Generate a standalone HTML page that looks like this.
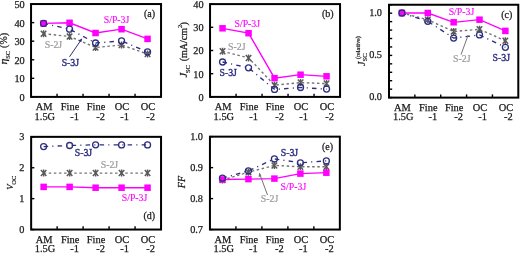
<!DOCTYPE html>
<html><head><meta charset="utf-8"><style>
html,body{margin:0;padding:0;background:#fff;}
body{width:520px;height:253px;overflow:hidden;}
svg{display:block;}
text{font-family:'Liberation Serif', 'Times New Roman', serif;stroke-width:0.25px;paint-order:stroke;}
.tk,.cat,.pl,.yl{stroke:#1a1a1a;}
.tk{font-size:10.3px;fill:#1a1a1a;}
.cat{font-size:10.4px;fill:#1a1a1a;}
.pl{font-size:10px;}
.lab{font-size:9.8px;stroke-width:0.4px;}
.yl{font-size:10px;fill:#1a1a1a;}
</style></head><body>
<svg width="520" height="253" viewBox="0 0 520 253">
<rect width="520" height="253" fill="#fff"/>
<path d="M43.55 33.7 L69.55 36.5 L95.55 47.5 L121.55 45 L147.55 54" stroke="#737373" stroke-width="1.4" fill="none" stroke-dasharray="2.5 2.6"/>
<path d="M43.55 23.4 L69.55 29.2 L95.55 43 L121.55 40.9 L147.55 51.9" stroke="#2e2e80" stroke-width="1.35" fill="none" stroke-dasharray="4.5 4.2 1.1 4.2"/>
<path d="M43.55 23.4 L69.55 22.8 L95.55 33 L121.55 29.2 L147.55 38.9" stroke="#ff00ff" stroke-width="1.35" fill="none"/>
<path d="M40.8 30.7L46.3 36.7M40.8 36.7L46.3 30.7M43.55 30.2L43.55 37.2" stroke="#5a5a5a" stroke-width="1.45" fill="none"/>
<path d="M66.8 33.5L72.3 39.5M66.8 39.5L72.3 33.5M69.55 33L69.55 40" stroke="#5a5a5a" stroke-width="1.45" fill="none"/>
<path d="M92.8 44.5L98.3 50.5M92.8 50.5L98.3 44.5M95.55 44L95.55 51" stroke="#5a5a5a" stroke-width="1.45" fill="none"/>
<path d="M118.8 42L124.3 48M118.8 48L124.3 42M121.55 41.5L121.55 48.5" stroke="#5a5a5a" stroke-width="1.45" fill="none"/>
<path d="M144.8 51L150.3 57M144.8 57L150.3 51M147.55 50.5L147.55 57.5" stroke="#5a5a5a" stroke-width="1.45" fill="none"/>
<rect x="40.3" y="20.15" width="6.5" height="6.5" fill="#ff00ff"/>
<rect x="66.3" y="19.55" width="6.5" height="6.5" fill="#ff00ff"/>
<rect x="92.3" y="29.75" width="6.5" height="6.5" fill="#ff00ff"/>
<rect x="118.3" y="25.95" width="6.5" height="6.5" fill="#ff00ff"/>
<rect x="144.3" y="35.65" width="6.5" height="6.5" fill="#ff00ff"/>
<circle cx="43.55" cy="23.4" r="3" fill="none" stroke="#2e2e80" stroke-width="1.3"/>
<circle cx="69.55" cy="29.2" r="3" fill="none" stroke="#2e2e80" stroke-width="1.3"/>
<circle cx="95.55" cy="43" r="3" fill="none" stroke="#2e2e80" stroke-width="1.3"/>
<circle cx="121.55" cy="40.9" r="3" fill="none" stroke="#2e2e80" stroke-width="1.3"/>
<circle cx="147.55" cy="51.9" r="3" fill="none" stroke="#2e2e80" stroke-width="1.3"/>
<rect x="31.05" y="4.05" width="130" height="92.85" fill="none" stroke="#000" stroke-width="2.0"/>
<path d="M31.05 96.9H34.25" stroke="#000" stroke-width="1.4"/>
<text x="24.71" y="100.8" text-anchor="end" class="tk">0</text>
<path d="M31.05 78.33H34.25" stroke="#000" stroke-width="1.4"/>
<text x="24.71" y="82.23" text-anchor="end" class="tk">10</text>
<path d="M31.05 59.76H34.25" stroke="#000" stroke-width="1.4"/>
<text x="24.71" y="63.66" text-anchor="end" class="tk">20</text>
<path d="M31.05 41.19H34.25" stroke="#000" stroke-width="1.4"/>
<text x="24.71" y="45.09" text-anchor="end" class="tk">30</text>
<path d="M31.05 22.62H34.25" stroke="#000" stroke-width="1.4"/>
<text x="24.71" y="26.52" text-anchor="end" class="tk">40</text>
<path d="M31.05 4.05H34.25" stroke="#000" stroke-width="1.4"/>
<text x="24.71" y="7.95" text-anchor="end" class="tk">50</text>
<path d="M57.05 96.9V93.7" stroke="#000" stroke-width="1.4"/>
<path d="M83.05 96.9V93.7" stroke="#000" stroke-width="1.4"/>
<path d="M109.05 96.9V93.7" stroke="#000" stroke-width="1.4"/>
<path d="M135.05 96.9V93.7" stroke="#000" stroke-width="1.4"/>
<text x="44.05" y="110.2" text-anchor="middle" class="cat">AM</text>
<text x="44.85" y="119.5" text-anchor="middle" class="cat">1.5G</text>
<text x="70.05" y="110.2" text-anchor="middle" class="cat">Fine</text>
<text x="78.91" y="119.5" text-anchor="end" class="cat">-1</text>
<text x="96.05" y="110.2" text-anchor="middle" class="cat">Fine</text>
<text x="104.91" y="119.5" text-anchor="end" class="cat">-2</text>
<text x="122.05" y="110.2" text-anchor="middle" class="cat">OC</text>
<text x="128.88" y="119.5" text-anchor="end" class="cat">-1</text>
<text x="148.05" y="110.2" text-anchor="middle" class="cat">OC</text>
<text x="154.88" y="119.5" text-anchor="end" class="cat">-2</text>
<path d="M222.55 51.3 L248.55 57.9 L274.55 85.2 L300.55 82.6 L326.55 83.6" stroke="#737373" stroke-width="1.4" fill="none" stroke-dasharray="2.5 2.6"/>
<path d="M222.55 62 L248.55 67.8 L274.55 89.4 L300.55 87.5 L326.55 89.1" stroke="#2e2e80" stroke-width="1.35" fill="none" stroke-dasharray="4.5 4.2 1.1 4.2"/>
<path d="M222.55 28.3 L248.55 33.2 L274.55 78.2 L300.55 74.7 L326.55 76.3" stroke="#ff00ff" stroke-width="1.35" fill="none"/>
<path d="M219.8 48.3L225.3 54.3M219.8 54.3L225.3 48.3M222.55 47.8L222.55 54.8" stroke="#5a5a5a" stroke-width="1.45" fill="none"/>
<path d="M245.8 54.9L251.3 60.9M245.8 60.9L251.3 54.9M248.55 54.4L248.55 61.4" stroke="#5a5a5a" stroke-width="1.45" fill="none"/>
<path d="M271.8 82.2L277.3 88.2M271.8 88.2L277.3 82.2M274.55 81.7L274.55 88.7" stroke="#5a5a5a" stroke-width="1.45" fill="none"/>
<path d="M297.8 79.6L303.3 85.6M297.8 85.6L303.3 79.6M300.55 79.1L300.55 86.1" stroke="#5a5a5a" stroke-width="1.45" fill="none"/>
<path d="M323.8 80.6L329.3 86.6M323.8 86.6L329.3 80.6M326.55 80.1L326.55 87.1" stroke="#5a5a5a" stroke-width="1.45" fill="none"/>
<rect x="219.3" y="25.05" width="6.5" height="6.5" fill="#ff00ff"/>
<rect x="245.3" y="29.95" width="6.5" height="6.5" fill="#ff00ff"/>
<rect x="271.3" y="74.95" width="6.5" height="6.5" fill="#ff00ff"/>
<rect x="297.3" y="71.45" width="6.5" height="6.5" fill="#ff00ff"/>
<rect x="323.3" y="73.05" width="6.5" height="6.5" fill="#ff00ff"/>
<circle cx="222.55" cy="62" r="3" fill="none" stroke="#2e2e80" stroke-width="1.3"/>
<circle cx="248.55" cy="67.8" r="3" fill="none" stroke="#2e2e80" stroke-width="1.3"/>
<circle cx="274.55" cy="89.4" r="3" fill="none" stroke="#2e2e80" stroke-width="1.3"/>
<circle cx="300.55" cy="87.5" r="3" fill="none" stroke="#2e2e80" stroke-width="1.3"/>
<circle cx="326.55" cy="89.1" r="3" fill="none" stroke="#2e2e80" stroke-width="1.3"/>
<rect x="210.05" y="4.1" width="130" height="92.8" fill="none" stroke="#000" stroke-width="2.0"/>
<path d="M210.05 96.9H213.25" stroke="#000" stroke-width="1.4"/>
<text x="203.61" y="100.75" text-anchor="end" class="tk">0</text>
<path d="M210.05 73.7H213.25" stroke="#000" stroke-width="1.4"/>
<text x="203.61" y="77.55" text-anchor="end" class="tk">10</text>
<path d="M210.05 50.5H213.25" stroke="#000" stroke-width="1.4"/>
<text x="203.61" y="54.35" text-anchor="end" class="tk">20</text>
<path d="M210.05 27.3H213.25" stroke="#000" stroke-width="1.4"/>
<text x="203.61" y="31.15" text-anchor="end" class="tk">30</text>
<path d="M210.05 4.1H213.25" stroke="#000" stroke-width="1.4"/>
<text x="203.61" y="7.95" text-anchor="end" class="tk">40</text>
<path d="M236.05 96.9V93.7" stroke="#000" stroke-width="1.4"/>
<path d="M262.05 96.9V93.7" stroke="#000" stroke-width="1.4"/>
<path d="M288.05 96.9V93.7" stroke="#000" stroke-width="1.4"/>
<path d="M314.05 96.9V93.7" stroke="#000" stroke-width="1.4"/>
<text x="223.05" y="110.2" text-anchor="middle" class="cat">AM</text>
<text x="223.85" y="119.5" text-anchor="middle" class="cat">1.5G</text>
<text x="249.05" y="110.2" text-anchor="middle" class="cat">Fine</text>
<text x="257.91" y="119.5" text-anchor="end" class="cat">-1</text>
<text x="275.05" y="110.2" text-anchor="middle" class="cat">Fine</text>
<text x="283.91" y="119.5" text-anchor="end" class="cat">-2</text>
<text x="301.05" y="110.2" text-anchor="middle" class="cat">OC</text>
<text x="307.88" y="119.5" text-anchor="end" class="cat">-1</text>
<text x="327.05" y="110.2" text-anchor="middle" class="cat">OC</text>
<text x="333.88" y="119.5" text-anchor="end" class="cat">-2</text>
<path d="M401.93 13 L427.79 19.8 L453.65 31.5 L479.51 29.3 L505.37 40.8" stroke="#737373" stroke-width="1.4" fill="none" stroke-dasharray="2.5 2.6"/>
<path d="M401.93 13 L427.79 21.3 L453.65 38.1 L479.51 34.9 L505.37 47.3" stroke="#2e2e80" stroke-width="1.35" fill="none" stroke-dasharray="4.5 4.2 1.1 4.2"/>
<path d="M401.93 13 L427.79 13 L453.65 22.3 L479.51 19.7 L505.37 30.9" stroke="#ff00ff" stroke-width="1.35" fill="none"/>
<path d="M399.18 10L404.68 16M399.18 16L404.68 10M401.93 9.5L401.93 16.5" stroke="#5a5a5a" stroke-width="1.45" fill="none"/>
<path d="M425.04 16.8L430.54 22.8M425.04 22.8L430.54 16.8M427.79 16.3L427.79 23.3" stroke="#5a5a5a" stroke-width="1.45" fill="none"/>
<path d="M450.9 28.5L456.4 34.5M450.9 34.5L456.4 28.5M453.65 28L453.65 35" stroke="#5a5a5a" stroke-width="1.45" fill="none"/>
<path d="M476.76 26.3L482.26 32.3M476.76 32.3L482.26 26.3M479.51 25.8L479.51 32.8" stroke="#5a5a5a" stroke-width="1.45" fill="none"/>
<path d="M502.62 37.8L508.12 43.8M502.62 43.8L508.12 37.8M505.37 37.3L505.37 44.3" stroke="#5a5a5a" stroke-width="1.45" fill="none"/>
<rect x="398.68" y="9.75" width="6.5" height="6.5" fill="#ff00ff"/>
<rect x="424.54" y="9.75" width="6.5" height="6.5" fill="#ff00ff"/>
<rect x="450.4" y="19.05" width="6.5" height="6.5" fill="#ff00ff"/>
<rect x="476.26" y="16.45" width="6.5" height="6.5" fill="#ff00ff"/>
<rect x="502.12" y="27.65" width="6.5" height="6.5" fill="#ff00ff"/>
<circle cx="401.93" cy="13" r="3" fill="none" stroke="#2e2e80" stroke-width="1.3"/>
<circle cx="427.79" cy="21.3" r="3" fill="none" stroke="#2e2e80" stroke-width="1.3"/>
<circle cx="453.65" cy="38.1" r="3" fill="none" stroke="#2e2e80" stroke-width="1.3"/>
<circle cx="479.51" cy="34.9" r="3" fill="none" stroke="#2e2e80" stroke-width="1.3"/>
<circle cx="505.37" cy="47.3" r="3" fill="none" stroke="#2e2e80" stroke-width="1.3"/>
<rect x="389" y="4.75" width="129.3" height="92.85" fill="none" stroke="#000" stroke-width="2.0"/>
<path d="M389 97.6H392.2" stroke="#000" stroke-width="1.4"/>
<text x="382" y="100.3" text-anchor="end" class="tk">0.0</text>
<path d="M389 89.16H392.2" stroke="#000" stroke-width="1.4"/>
<path d="M389 80.72H392.2" stroke="#000" stroke-width="1.4"/>
<path d="M389 72.28H392.2" stroke="#000" stroke-width="1.4"/>
<path d="M389 63.84H392.2" stroke="#000" stroke-width="1.4"/>
<path d="M389 55.4H392.2" stroke="#000" stroke-width="1.4"/>
<text x="382" y="58.1" text-anchor="end" class="tk">0.5</text>
<path d="M389 46.95H392.2" stroke="#000" stroke-width="1.4"/>
<path d="M389 38.51H392.2" stroke="#000" stroke-width="1.4"/>
<path d="M389 30.07H392.2" stroke="#000" stroke-width="1.4"/>
<path d="M389 21.63H392.2" stroke="#000" stroke-width="1.4"/>
<path d="M389 13.19H392.2" stroke="#000" stroke-width="1.4"/>
<text x="382" y="15.89" text-anchor="end" class="tk">1.0</text>
<path d="M389 4.75H392.2" stroke="#000" stroke-width="1.4"/>
<path d="M414.86 97.6V94.4" stroke="#000" stroke-width="1.4"/>
<path d="M440.72 97.6V94.4" stroke="#000" stroke-width="1.4"/>
<path d="M466.58 97.6V94.4" stroke="#000" stroke-width="1.4"/>
<path d="M492.44 97.6V94.4" stroke="#000" stroke-width="1.4"/>
<text x="402.43" y="110.9" text-anchor="middle" class="cat">AM</text>
<text x="403.23" y="120.2" text-anchor="middle" class="cat">1.5G</text>
<text x="428.29" y="110.9" text-anchor="middle" class="cat">Fine</text>
<text x="437.15" y="120.2" text-anchor="end" class="cat">-1</text>
<text x="454.15" y="110.9" text-anchor="middle" class="cat">Fine</text>
<text x="463.01" y="120.2" text-anchor="end" class="cat">-2</text>
<text x="480.01" y="110.9" text-anchor="middle" class="cat">OC</text>
<text x="486.84" y="120.2" text-anchor="end" class="cat">-1</text>
<text x="505.87" y="110.9" text-anchor="middle" class="cat">OC</text>
<text x="512.7" y="120.2" text-anchor="end" class="cat">-2</text>
<path d="M43.64 173.1 L69.62 173.1 L95.6 173.1 L121.58 173.1 L147.56 173.1" stroke="#737373" stroke-width="1.4" fill="none" stroke-dasharray="2.5 2.6"/>
<path d="M43.64 146.6 L69.62 145.5 L95.6 144.8 L121.58 144.9 L147.56 144.9" stroke="#2e2e80" stroke-width="1.35" fill="none" stroke-dasharray="4.5 4.2 1.1 4.2"/>
<path d="M43.64 186.9 L69.62 186.9 L95.6 187.7 L121.58 187.7 L147.56 187.7" stroke="#ff00ff" stroke-width="1.35" fill="none"/>
<path d="M40.89 170.1L46.39 176.1M40.89 176.1L46.39 170.1M43.64 169.6L43.64 176.6" stroke="#5a5a5a" stroke-width="1.45" fill="none"/>
<path d="M66.87 170.1L72.37 176.1M66.87 176.1L72.37 170.1M69.62 169.6L69.62 176.6" stroke="#5a5a5a" stroke-width="1.45" fill="none"/>
<path d="M92.85 170.1L98.35 176.1M92.85 176.1L98.35 170.1M95.6 169.6L95.6 176.6" stroke="#5a5a5a" stroke-width="1.45" fill="none"/>
<path d="M118.83 170.1L124.33 176.1M118.83 176.1L124.33 170.1M121.58 169.6L121.58 176.6" stroke="#5a5a5a" stroke-width="1.45" fill="none"/>
<path d="M144.81 170.1L150.31 176.1M144.81 176.1L150.31 170.1M147.56 169.6L147.56 176.6" stroke="#5a5a5a" stroke-width="1.45" fill="none"/>
<rect x="40.39" y="183.65" width="6.5" height="6.5" fill="#ff00ff"/>
<rect x="66.37" y="183.65" width="6.5" height="6.5" fill="#ff00ff"/>
<rect x="92.35" y="184.45" width="6.5" height="6.5" fill="#ff00ff"/>
<rect x="118.33" y="184.45" width="6.5" height="6.5" fill="#ff00ff"/>
<rect x="144.31" y="184.45" width="6.5" height="6.5" fill="#ff00ff"/>
<circle cx="43.64" cy="146.6" r="3" fill="none" stroke="#2e2e80" stroke-width="1.3"/>
<circle cx="69.62" cy="145.5" r="3" fill="none" stroke="#2e2e80" stroke-width="1.3"/>
<circle cx="95.6" cy="144.8" r="3" fill="none" stroke="#2e2e80" stroke-width="1.3"/>
<circle cx="121.58" cy="144.9" r="3" fill="none" stroke="#2e2e80" stroke-width="1.3"/>
<circle cx="147.56" cy="144.9" r="3" fill="none" stroke="#2e2e80" stroke-width="1.3"/>
<rect x="31.15" y="136.85" width="129.9" height="92.7" fill="none" stroke="#000" stroke-width="2.0"/>
<path d="M31.15 229.55H34.35" stroke="#000" stroke-width="1.4"/>
<text x="24.41" y="232.8" text-anchor="end" class="tk">0</text>
<path d="M31.15 198.65H34.35" stroke="#000" stroke-width="1.4"/>
<text x="24.41" y="201.9" text-anchor="end" class="tk">1</text>
<path d="M31.15 167.75H34.35" stroke="#000" stroke-width="1.4"/>
<text x="24.41" y="171" text-anchor="end" class="tk">2</text>
<path d="M31.15 136.85H34.35" stroke="#000" stroke-width="1.4"/>
<text x="24.41" y="140.1" text-anchor="end" class="tk">3</text>
<path d="M57.13 229.55V226.35" stroke="#000" stroke-width="1.4"/>
<path d="M83.11 229.55V226.35" stroke="#000" stroke-width="1.4"/>
<path d="M109.09 229.55V226.35" stroke="#000" stroke-width="1.4"/>
<path d="M135.07 229.55V226.35" stroke="#000" stroke-width="1.4"/>
<text x="44.14" y="242.85" text-anchor="middle" class="cat">AM</text>
<text x="44.94" y="252.15" text-anchor="middle" class="cat">1.5G</text>
<text x="70.12" y="242.85" text-anchor="middle" class="cat">Fine</text>
<text x="78.98" y="252.15" text-anchor="end" class="cat">-1</text>
<text x="96.1" y="242.85" text-anchor="middle" class="cat">Fine</text>
<text x="104.96" y="252.15" text-anchor="end" class="cat">-2</text>
<text x="122.08" y="242.85" text-anchor="middle" class="cat">OC</text>
<text x="128.91" y="252.15" text-anchor="end" class="cat">-1</text>
<text x="148.06" y="242.85" text-anchor="middle" class="cat">OC</text>
<text x="154.89" y="252.15" text-anchor="end" class="cat">-2</text>
<path d="M222.44 180 L248.42 172.2 L274.4 165.4 L300.38 166.8 L326.36 166.8" stroke="#737373" stroke-width="1.4" fill="none" stroke-dasharray="2.5 2.6"/>
<path d="M222.44 178.2 L248.42 170.8 L274.4 158.9 L300.38 162.8 L326.36 160.9" stroke="#2e2e80" stroke-width="1.35" fill="none" stroke-dasharray="4.5 4.2 1.1 4.2"/>
<path d="M222.44 179.5 L248.42 179.1 L274.4 178.6 L300.38 173.6 L326.36 172.7" stroke="#ff00ff" stroke-width="1.35" fill="none"/>
<path d="M219.69 177L225.19 183M219.69 183L225.19 177M222.44 176.5L222.44 183.5" stroke="#5a5a5a" stroke-width="1.45" fill="none"/>
<path d="M245.67 169.2L251.17 175.2M245.67 175.2L251.17 169.2M248.42 168.7L248.42 175.7" stroke="#5a5a5a" stroke-width="1.45" fill="none"/>
<path d="M271.65 162.4L277.15 168.4M271.65 168.4L277.15 162.4M274.4 161.9L274.4 168.9" stroke="#5a5a5a" stroke-width="1.45" fill="none"/>
<path d="M297.63 163.8L303.13 169.8M297.63 169.8L303.13 163.8M300.38 163.3L300.38 170.3" stroke="#5a5a5a" stroke-width="1.45" fill="none"/>
<path d="M323.61 163.8L329.11 169.8M323.61 169.8L329.11 163.8M326.36 163.3L326.36 170.3" stroke="#5a5a5a" stroke-width="1.45" fill="none"/>
<rect x="219.19" y="176.25" width="6.5" height="6.5" fill="#ff00ff"/>
<rect x="245.17" y="175.85" width="6.5" height="6.5" fill="#ff00ff"/>
<rect x="271.15" y="175.35" width="6.5" height="6.5" fill="#ff00ff"/>
<rect x="297.13" y="170.35" width="6.5" height="6.5" fill="#ff00ff"/>
<rect x="323.11" y="169.45" width="6.5" height="6.5" fill="#ff00ff"/>
<circle cx="222.44" cy="178.2" r="3" fill="none" stroke="#2e2e80" stroke-width="1.3"/>
<circle cx="248.42" cy="170.8" r="3" fill="none" stroke="#2e2e80" stroke-width="1.3"/>
<circle cx="274.4" cy="158.9" r="3" fill="none" stroke="#2e2e80" stroke-width="1.3"/>
<circle cx="300.38" cy="162.8" r="3" fill="none" stroke="#2e2e80" stroke-width="1.3"/>
<circle cx="326.36" cy="160.9" r="3" fill="none" stroke="#2e2e80" stroke-width="1.3"/>
<rect x="209.95" y="136.65" width="129.9" height="92.9" fill="none" stroke="#000" stroke-width="2.0"/>
<path d="M209.95 229.55H213.15" stroke="#000" stroke-width="1.4"/>
<text x="203.01" y="233.1" text-anchor="end" class="tk">0.7</text>
<path d="M209.95 198.58H213.15" stroke="#000" stroke-width="1.4"/>
<text x="203.01" y="202.13" text-anchor="end" class="tk">0.8</text>
<path d="M209.95 167.62H213.15" stroke="#000" stroke-width="1.4"/>
<text x="203.01" y="171.17" text-anchor="end" class="tk">0.9</text>
<path d="M209.95 136.65H213.15" stroke="#000" stroke-width="1.4"/>
<text x="203.01" y="140.2" text-anchor="end" class="tk">1.0</text>
<path d="M235.93 229.55V226.35" stroke="#000" stroke-width="1.4"/>
<path d="M261.91 229.55V226.35" stroke="#000" stroke-width="1.4"/>
<path d="M287.89 229.55V226.35" stroke="#000" stroke-width="1.4"/>
<path d="M313.87 229.55V226.35" stroke="#000" stroke-width="1.4"/>
<text x="222.94" y="242.85" text-anchor="middle" class="cat">AM</text>
<text x="223.74" y="252.15" text-anchor="middle" class="cat">1.5G</text>
<text x="248.92" y="242.85" text-anchor="middle" class="cat">Fine</text>
<text x="257.78" y="252.15" text-anchor="end" class="cat">-1</text>
<text x="274.9" y="242.85" text-anchor="middle" class="cat">Fine</text>
<text x="283.76" y="252.15" text-anchor="end" class="cat">-2</text>
<text x="300.88" y="242.85" text-anchor="middle" class="cat">OC</text>
<text x="307.71" y="252.15" text-anchor="end" class="cat">-1</text>
<text x="326.86" y="242.85" text-anchor="middle" class="cat">OC</text>
<text x="333.69" y="252.15" text-anchor="end" class="cat">-2</text>
<text x="149.5" y="17.2" fill="#1a1a1a" stroke="#1a1a1a" class="pl" text-anchor="middle" style="stroke-width:0.25px">(a)</text>
<text x="327.8" y="17.2" fill="#1a1a1a" stroke="#1a1a1a" class="pl" text-anchor="middle" style="stroke-width:0.25px">(b)</text>
<text x="506.7" y="17.5" fill="#1a1a1a" stroke="#1a1a1a" class="pl" text-anchor="middle" style="stroke-width:0.25px">(c)</text>
<text x="149.3" y="219" fill="#1a1a1a" stroke="#1a1a1a" class="pl" text-anchor="middle" style="stroke-width:0.25px">(d)</text>
<text x="327.45" y="149.5" fill="#1a1a1a" stroke="#1a1a1a" class="pl" text-anchor="middle" style="stroke-width:0.25px">(e)</text>
<text x="116.52" y="22.7" fill="#ff00ff" stroke="#ff00ff" class="lab" text-anchor="middle" style="stroke-width:0.12px">S/P-3J</text>
<text x="53.42" y="47.8" fill="#9a9a9a" stroke="#9a9a9a" class="lab" text-anchor="middle" style="stroke-width:0.2px">S-2J</text>
<text x="70.37" y="65.9" fill="#2e2e80" stroke="#2e2e80" class="lab" text-anchor="middle" style="stroke-width:0.38px">S-3J</text>
<text x="247.27" y="26.7" fill="#ff00ff" stroke="#ff00ff" class="lab" text-anchor="middle" style="stroke-width:0.12px">S/P-3J</text>
<text x="236.77" y="49.5" fill="#9a9a9a" stroke="#9a9a9a" class="lab" text-anchor="middle" style="stroke-width:0.2px">S-2J</text>
<text x="228.17" y="76.4" fill="#2e2e80" stroke="#2e2e80" class="lab" text-anchor="middle" style="stroke-width:0.38px">S-3J</text>
<text x="461.47" y="15.3" fill="#ff00ff" stroke="#ff00ff" class="lab" text-anchor="middle" style="stroke-width:0.12px">S/P-3J</text>
<text x="461.77" y="62.2" fill="#9a9a9a" stroke="#9a9a9a" class="lab" text-anchor="middle" style="stroke-width:0.2px">S-2J</text>
<text x="501.27" y="60.8" fill="#2e2e80" stroke="#2e2e80" class="lab" text-anchor="middle" style="stroke-width:0.38px">S-3J</text>
<text x="83.47" y="156.3" fill="#2e2e80" stroke="#2e2e80" class="lab" text-anchor="middle" style="stroke-width:0.38px">S-3J</text>
<text x="109.47" y="167.8" fill="#9a9a9a" stroke="#9a9a9a" class="lab" text-anchor="middle" style="stroke-width:0.2px">S-2J</text>
<text x="134.52" y="200.9" fill="#ff00ff" stroke="#ff00ff" class="lab" text-anchor="middle" style="stroke-width:0.12px">S/P-3J</text>
<text x="289.47" y="156.4" fill="#2e2e80" stroke="#2e2e80" class="lab" text-anchor="middle" style="stroke-width:0.38px">S-3J</text>
<text x="293.42" y="190" fill="#ff00ff" stroke="#ff00ff" class="lab" text-anchor="middle" style="stroke-width:0.12px">S/P-3J</text>
<text x="269.57" y="202.4" fill="#9a9a9a" stroke="#9a9a9a" class="lab" text-anchor="middle" style="stroke-width:0.2px">S-2J</text>
<path d="M69.5 56.8L81.6 39.2" stroke="#2e2e80" stroke-width="1"/>
<path d="M82.3 38.2L78.6 40.6L81.2 42.3Z" fill="#2e2e80"/>
<path d="M461 54.6L468.2 35" stroke="#737373" stroke-width="1"/>
<path d="M267.5 195L259.6 173.6" stroke="#737373" stroke-width="1"/>
<path d="M259.2 172.6L258.6 177L261.4 176Z" fill="#737373"/>
<text transform="translate(6.7 64.5) rotate(-90)" class="yl" style="font-size:9.5px;font-style:italic;" textLength="6" lengthAdjust="spacingAndGlyphs">η</text>
<text transform="translate(9.8 58.8) rotate(-90)" class="yl" style="font-size:6.6px;stroke-width:0.18px;">SC</text>
<text transform="translate(6.65 47.95) rotate(-90)" class="yl" style="font-size:10px;">(%)</text>
<text transform="translate(186.8 77.6) rotate(-90)" class="yl" style="font-size:10.5px;font-style:italic;">J</text>
<text transform="translate(189.8 73.3) rotate(-90)" class="yl" style="font-size:7px;stroke-width:0.18px;">SC</text>
<text transform="translate(186.8 61.35) rotate(-90)" class="yl" style="font-size:10px;">(mA/cm</text>
<text transform="translate(181.7 28) rotate(-90)" class="yl" style="font-size:6.5px;stroke-width:0.18px;">2</text>
<text transform="translate(186.8 25.4) rotate(-90)" class="yl" style="font-size:10px;">)</text>
<text transform="translate(364.8 66) rotate(-90)" class="yl" style="font-size:10px;font-style:italic;">J</text>
<text transform="translate(366.7 61.5) rotate(-90)" class="yl" style="font-size:6.8px;stroke-width:0.18px;">SC</text>
<text transform="translate(360 59.1) rotate(-90)" class="yl" style="font-size:5.9px;stroke-width:0.18px;" textLength="23" lengthAdjust="spacingAndGlyphs">(relative)</text>
<text transform="translate(12.6 189.7) rotate(-90)" class="yl" style="font-size:8.8px;font-style:italic;">V</text>
<text transform="translate(15.9 184.75) rotate(-90)" class="yl" style="font-size:6.5px;stroke-width:0.18px;">OC</text>
<text transform="translate(185.3 188.2) rotate(-90)" class="yl" style="font-size:10px;font-style:italic;">FF</text>
</svg>
</body></html>
